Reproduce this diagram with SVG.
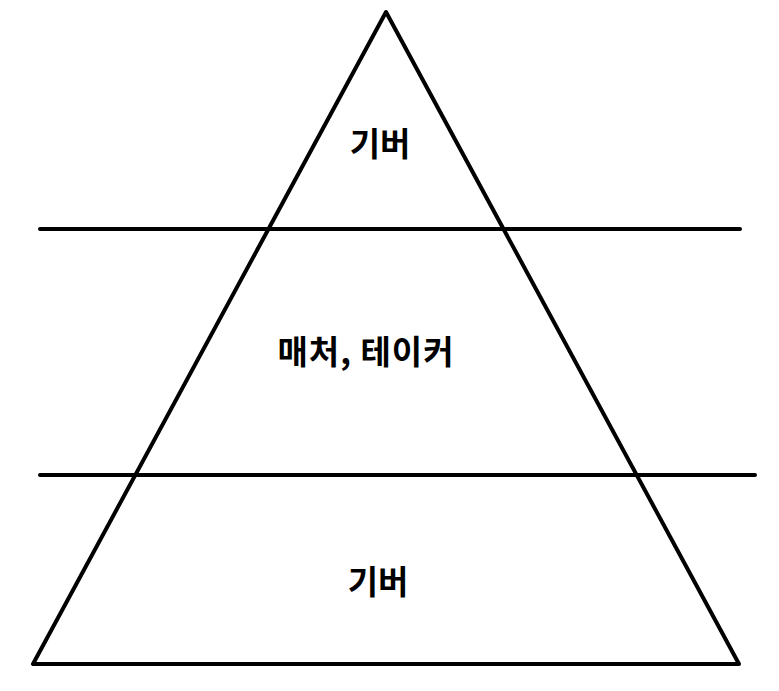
<svg xmlns="http://www.w3.org/2000/svg" width="779" height="691" viewBox="0 0 779 691">
<style>
.ln{stroke:#000;stroke-width:4;fill:none;stroke-linecap:round;stroke-linejoin:round}
.t{font-family:"Noto Sans CJK KR","Noto Sans",sans-serif;font-weight:bold;font-size:33px;fill:#000;text-anchor:middle}
</style>
<rect width="779" height="691" fill="#fff"/>
<g id="connectors">
<polygon class="ln" points="386,12 33,664 739,664"/>
<line class="ln" x1="40" y1="229" x2="740" y2="229"/>
<line class="ln" x1="40" y1="475" x2="755" y2="475"/>
</g>
<g id="top"><text class="t" x="380" y="156">기버</text></g>
<g id="middle"><text class="t" x="366" y="364" letter-spacing="1">매처, 테이커</text></g>
<g id="bottom"><text class="t" x="378" y="594">기버</text></g>
</svg>
